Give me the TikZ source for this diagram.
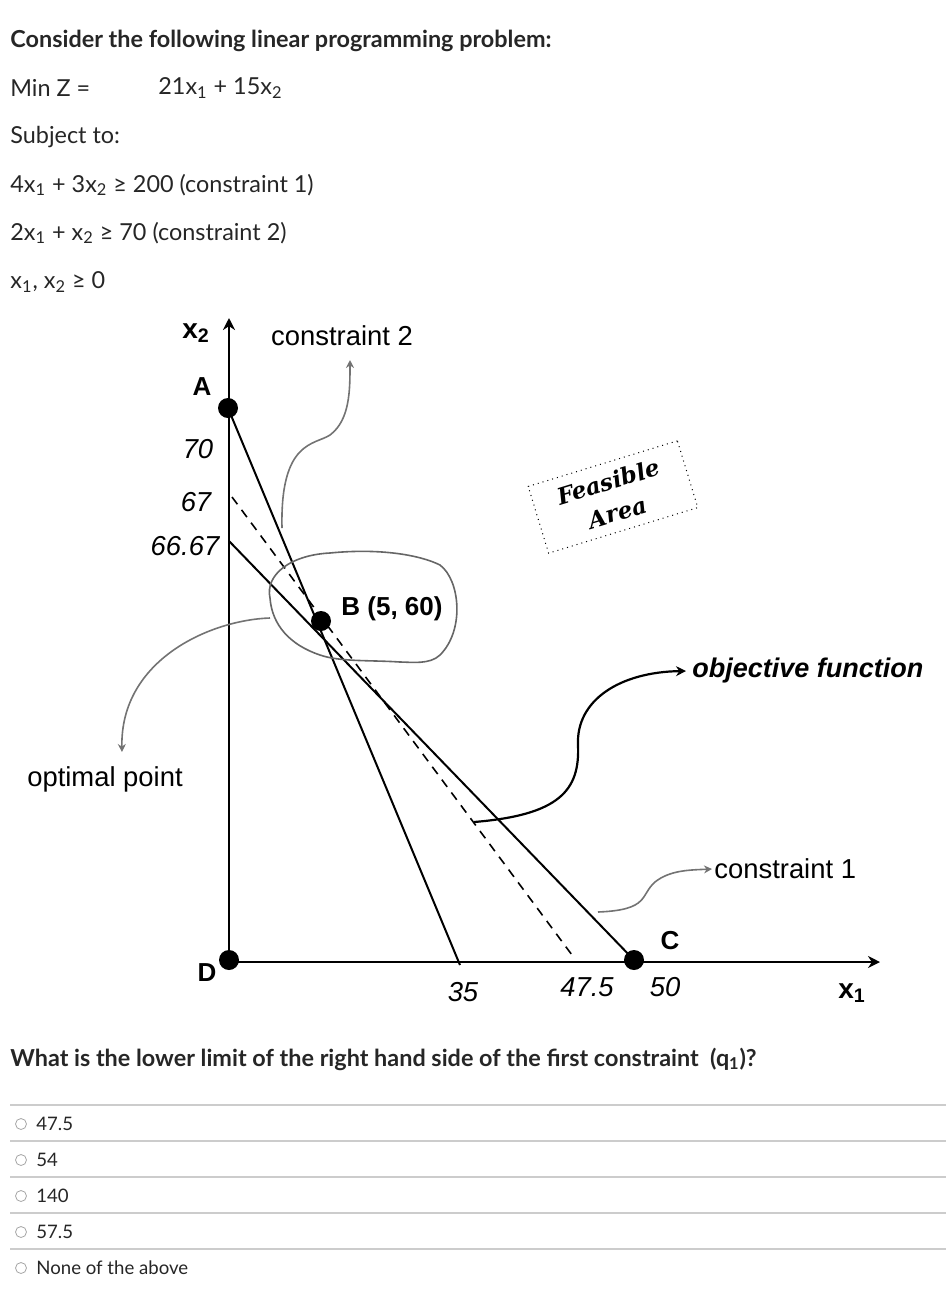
\documentclass[tikz,border=0pt]{standalone}
\usepackage{fontspec}
\setmainfont{Lato}
\newfontfamily\arial{Liberation Sans}
\newfontfamily\slab{DejaVu Serif}
\usetikzlibrary{arrows.meta}
\begin{document}
\begin{tikzpicture}[x=0.5pt,y=-0.5pt,
  txt/.style={anchor=west,inner sep=0,font=\fontsize{11.7}{13}\selectfont,text=black!85},
  ar/.style={font=\arial\fontsize{13.7}{15}\selectfont,inner sep=0},
  arb/.style={font=\arial\bfseries\fontsize{13}{15}\selectfont,inner sep=0},
  ari/.style={font=\arial\itshape\fontsize{13.7}{15}\selectfont,inner sep=0},
  dot/.style={circle,fill=black,inner sep=0,minimum size=10},
  opt/.style={anchor=west,inner sep=0,font=\fontsize{9.3}{11}\selectfont,text=black!85},
  radio/.style={circle,draw=black!35,line width=0.4pt,inner sep=0,minimum size=5.5},
  sep/.style={draw=black!20,line width=0.6pt},
  gcurve/.style={draw=black!55,line width=0.8pt,-{Stealth[length=4,width=4]}}]
\useasboundingbox (0,0) rectangle (946,1292);
% header
\node[txt,font=\bfseries\fontsize{11.7}{13}\selectfont] (h1) at (10,41) {Consider the following linear programming problem:};
\node[txt] (h2) at (10,88) {Min Z =};
\node[txt] (h3) at (158,88) {21x\textsubscript{1} + 15x\textsubscript{2}};
\node[txt] (h4) at (10,137) {Subject to:};
\node[txt] (h5) at (10,185) {4x\textsubscript{1} + 3x\textsubscript{2} ≥ 200 (constraint 1)};
\node[txt] (h6) at (10,233) {2x\textsubscript{1} + x\textsubscript{2} ≥ 70 (constraint 2)};
\node[txt] (h7) at (10,282) {x\textsubscript{1}, x\textsubscript{2} ≥ 0};
% axes
\coordinate (O) at (229,962);
\coordinate (ytop) at (229,318);
\coordinate (xend) at (880,962);
\draw[line width=1.1pt,-{Stealth[length=6,width=6]}] (O) -- (ytop);
\draw[line width=1.1pt,-{Stealth[length=6,width=6]}] (O) -- (xend);
\node[dot] (A) at (228,408) {};
\node[dot] (D) at (229,960) {};
\node[dot] (C) at (634,960) {};
\node[dot] (B) at (321,621) {};
\coordinate (c2end) at (460,965);
\coordinate (c1start) at (229,541);
\coordinate (d1) at (232,497);
\coordinate (d2) at (572,955);
\draw[line width=1pt] (A.center) -- (c2end);
\draw[line width=1pt] (c1start) -- (C.center);
\draw[line width=0.8pt,dash pattern=on 4.5pt off 3.5pt] (d1) -- (d2);
% labels
\node[arb,font=\arial\bfseries\fontsize{14}{15}\selectfont] (lx2) at (196,333) {x\textsubscript{2}};
\node[arb] (lA) at (202,387) {A};
\node[ari] (l70) at (198,449) {70};
\node[ari] (l67) at (196,502) {67};
\node[ari] (l6667) at (185,546) {66.67};
\node[arb] (lB) at (392,609) {B (5, 60)};
\node[arb] (lD) at (207,973) {D};
\node[arb] (lC) at (670,941) {C};
\node[ari] (l35) at (463,992) {35};
\node[ari] (l475) at (587,987) {47.5};
\node[ari] (l50) at (665,987) {50};
\node[arb,font=\arial\bfseries\fontsize{14}{15}\selectfont] (lx1) at (852,993) {x\textsubscript{1}};
\node[ar] (lc2) at (342,336) {constraint 2};
\node[ar] (lop) at (105,779) {optimal point};
\node[ar,font=\arial\bfseries\itshape\fontsize{13.5}{15}\selectfont,anchor=west] (lof) at (692,671) {objective function};
\node[ar,anchor=west] (lc1) at (714,869) {constraint 1};
% feasible area box
\node[draw,dotted,line width=0.5pt,rotate=17,align=center,inner sep=5,minimum width=78,
  font=\slab\bfseries\itshape\fontsize{11.5}{16}\selectfont] (fa) at (613,497) {Feasible\\Area};
% curves
\coordinate (c2s) at (282,528);
\draw[gcurve] (c2s) .. controls (280,440) and (315,445) .. (330,435) .. controls (350,420) and (350,390) .. (350,360);
\draw[black!60,line width=0.8pt] (270,598) .. controls (265,575) and (290,555) .. (330,553) .. controls (380,548) and (420,555) .. (440,565)
  .. controls (460,580) and (465,630) .. (440,655) .. controls (430,665) and (410,662) .. (400,662)
  .. controls (370,660) and (340,662) .. (320,655) .. controls (290,645) and (272,625) .. (270,598);
\draw[gcurve] (270,618) .. controls (210,620) and (120,660) .. (122,752);
\draw[line width=1.1pt,-{Stealth[length=5,width=5]}] (474,822) .. controls (560,815) and (580,790) .. (578,745) .. controls (576,700) and (620,672) .. (686,671);
\draw[gcurve] (598,912) .. controls (650,910) and (640,895) .. (655,882) .. controls (670,870) and (690,870) .. (712,869);
% question
\node[txt,font=\bfseries\fontsize{11.7}{13}\selectfont] (q) at (10,1059) {What is the lower limit of the right hand side of the first constraint \ (q\textsubscript{1})?};
\foreach \y/\t [count=\i] in {1124/47.5,1160/54,1196/140,1232/57.5,1268/None of the above}{
  \node[radio] (r\i) at (21,\y) {};
  \node[opt] (o\i) at (36,\y) {\t};
  \draw[sep] (10,\y-19) -- (946,\y-19);
}
\end{tikzpicture}
\end{document}
